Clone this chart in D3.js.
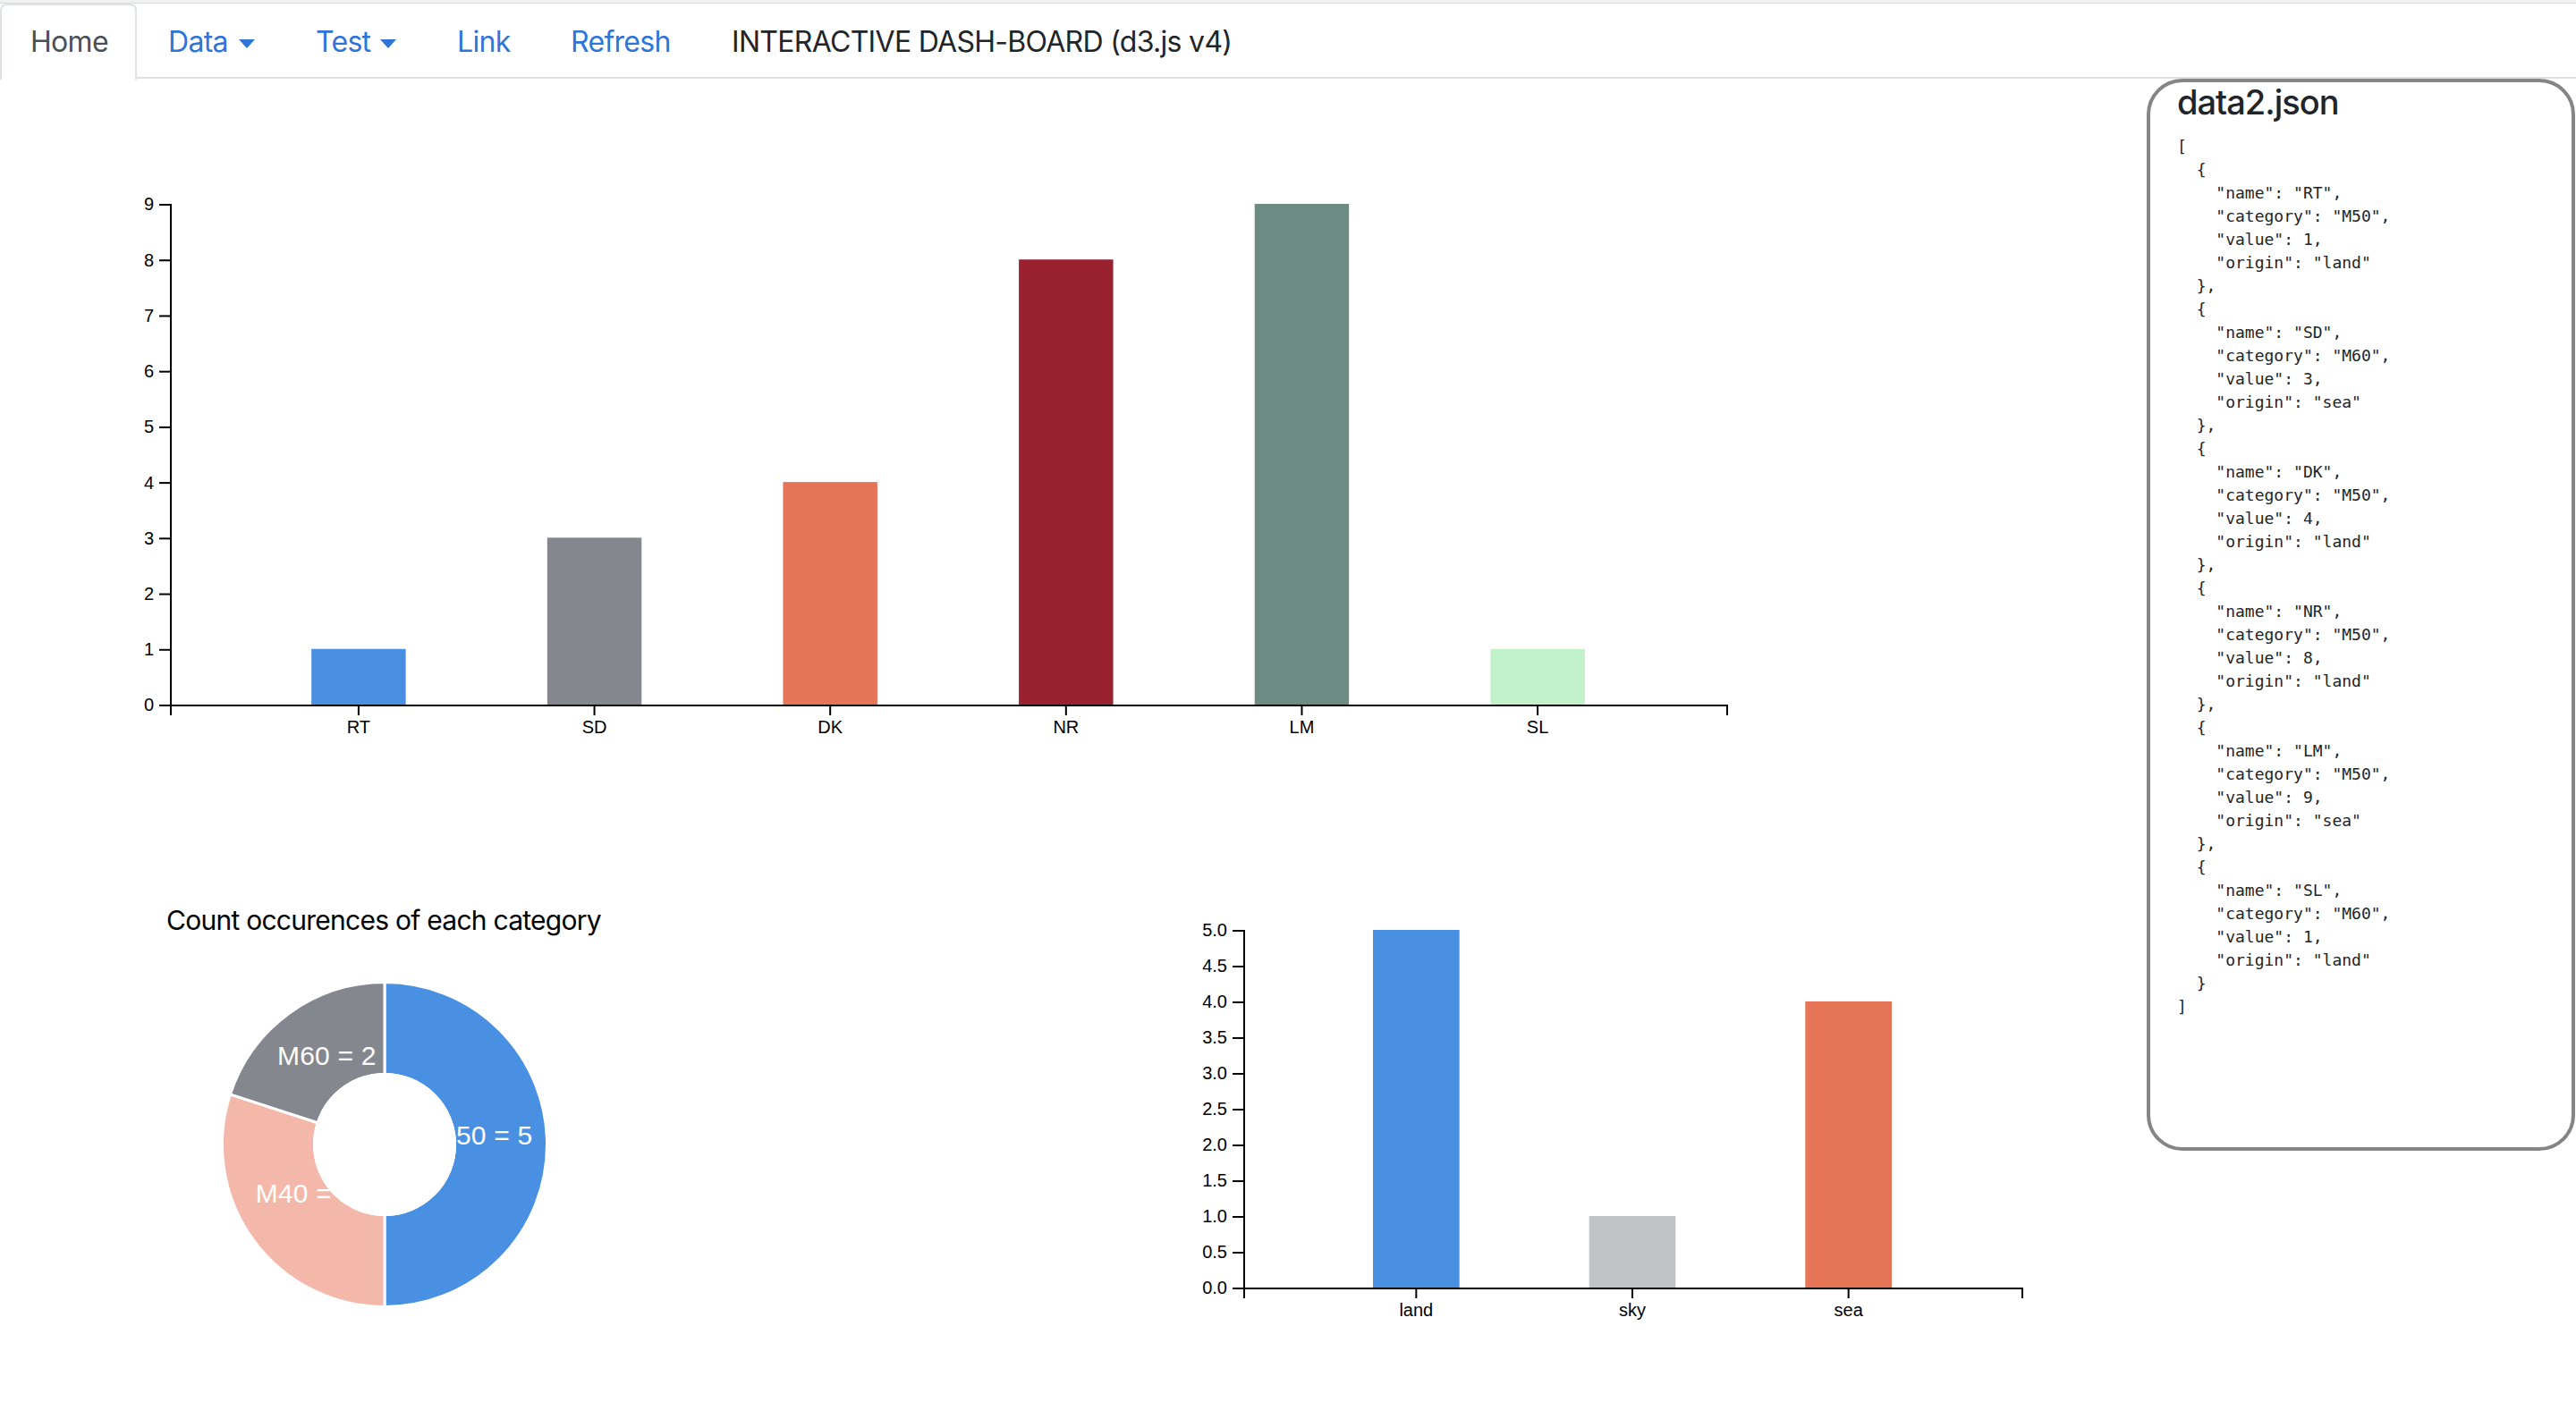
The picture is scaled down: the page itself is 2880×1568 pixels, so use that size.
<!DOCTYPE html>
<html>
<head>
<meta charset="utf-8">
<title>INTERACTIVE DASH-BOARD (d3.js v4)</title>
<script src="https://cdn.jsdelivr.net/npm/d3@7"></script>
<style>
html, body { margin: 0; padding: 0; background: #fff; overflow: hidden; }
svg { display: block; }
.axis text { font-family: "Liberation Sans", Arial, sans-serif; font-size: 20px; fill: #000; }
.axis path, .axis line { stroke: #000; stroke-width: 2; }
.nav text { font-family: Inter, sans-serif; font-size: 32px; letter-spacing: -0.7px; }
</style>
</head>
<body>
<svg id="page" width="2880" height="1568"></svg>
<script>
"use strict";

// data2.json as printed in the side panel, also the top bar chart
var names = ['RT', 'SD', 'DK', 'NR', 'LM', 'SL'];
var categories = ['M50', 'M60', 'M50', 'M50', 'M50', 'M60'];
var values = [1, 3, 4, 8, 9, 1];
var origins = ['land', 'sea', 'land', 'land', 'sea', 'land'];
var barColors = ['#4a90e2', '#85878f', '#e67457', '#9a2230', '#6b8b83', '#c0f1c8'];

// donut
var pieLabels = ['M50', 'M40', 'M60'];
var pieCounts = [5, 3, 2];
var pieColors = ['#4a90e2', '#f3b8aa', '#85878f'];

// small bar chart
var originNames = ['land', 'sky', 'sea'];
var originCounts = [5, 1, 4];
var originColors = ['#4a90e2', '#c2c3c7', '#e67457'];

var svg = d3.select('#page');

//---- nav bar ----
var nav = svg.append('g').attr('class', 'nav');
nav.append('rect').attr('width', 2880).attr('height', 3).attr('fill', '#f1f1f1');
nav.append('rect').attr('y', 3).attr('width', 2880).attr('height', 1).attr('fill', '#dcdcdc');
nav.append('rect').attr('y', 86).attr('width', 2880).attr('height', 2).attr('fill', '#dee0e2');
// active tab
nav.append('path')
	.attr('d', 'M1,88V12Q1,5 8,5H145Q152,5 152,12V88Z')
	.attr('fill', '#fff')
	.attr('stroke', '#dee2e6')
	.attr('stroke-width', 2);
nav.append('rect').attr('x', 2).attr('y', 84).attr('width', 149).attr('height', 6).attr('fill', '#fff');

var navItems = [
	{ label: 'Home', x: 34, color: '#495057' },
	{ label: 'Data', x: 188, color: '#2f74d8' },
	{ label: 'Test', x: 353, color: '#2f74d8' },
	{ label: 'Link', x: 511, color: '#2f74d8' },
	{ label: 'Refresh', x: 638, color: '#2f74d8' },
	{ label: 'INTERACTIVE DASH-BOARD (d3.js v4)', x: 818, color: '#212529' }
];
nav.selectAll('text')
	.data(navItems).enter()
	.append('text')
		.attr('x', function(d) { return d.x; })
		.attr('y', 58)
		.attr('fill', function(d) { return d.color; })
		.text(function(d) { return d.label; });
// dropdown carets
[267, 425].forEach(function(x) {
	nav.append('path')
		.attr('d', 'M' + x + ',44h18l-9,10Z')
		.attr('fill', '#2f74d8');
});

//---- top bar chart ----
var topX = d3.scaleBand().domain(names).range([190, 1930]).padding(0.6);
var topY = d3.scaleLinear().domain([0, 9]).range([788, 228]);

svg.append('g').selectAll('rect')
	.data(values).enter()
	.append('rect')
		.attr('x', function(d, i) { return topX(names[i]); })
		.attr('y', function(d) { return topY(d); })
		.attr('width', topX.bandwidth())
		.attr('height', function(d) { return topY(0) - topY(d); })
		.attr('fill', function(d, i) { return barColors[i]; });

svg.append('g').attr('class', 'axis')
	.attr('transform', 'translate(0,' + topY(0) + ')')
	.call(d3.axisBottom(topX).tickSize(12).tickPadding(6).offset(1));
svg.append('g').attr('class', 'axis')
	.attr('transform', 'translate(' + 190 + ',0)')
	.call(d3.axisLeft(topY).ticks(9).tickSize(12).tickPadding(6).offset(1));

//---- donut ----
svg.append('text')
	.attr('x', 186)
	.attr('y', 1040)
	.attr('font-family', 'Inter, sans-serif')
	.attr('font-size', 30)
	.attr('letter-spacing', -0.74)
	.attr('fill', '#000')
	.text('Count occurences of each category');

var donut = svg.append('g').attr('transform', 'translate(430,1280)');
var pie = d3.pie().sort(null);
var arc = d3.arc().innerRadius(78.5).outerRadius(181.5);
var labelArc = d3.arc().innerRadius(110).outerRadius(110);
var slices = pie(pieCounts);

donut.selectAll('path')
	.data(slices).enter()
	.append('path')
		.attr('d', arc)
		.attr('fill', function(d) { return pieColors[d.index]; })
		.attr('stroke', '#fff')
		.attr('stroke-width', 3);

donut.selectAll('text')
	.data(slices).enter()
	.append('text')
		.attr('transform', function(d) { return 'translate(' + labelArc.centroid(d) + ')'; })
		.attr('text-anchor', 'middle')
		.attr('font-family', '"Liberation Sans", Arial, sans-serif')
		.attr('font-size', 30)
		.attr('letter-spacing', 0.2)
		.attr('fill', '#fff')
		.text(function(d) { return pieLabels[d.index] + ' = ' + d.value; });
// the hole is painted on top of the labels in the original
donut.append('circle').attr('r', 80).attr('fill', '#fff');

//---- small bar chart ----
var originX = d3.scaleBand().domain(originNames).range([1390, 2260]).padding(0.6);
var originY = d3.scaleLinear().domain([0, 5]).range([1440, 1040]);

svg.append('g').selectAll('rect')
	.data(originCounts).enter()
	.append('rect')
		.attr('x', function(d, i) { return originX(originNames[i]); })
		.attr('y', function(d) { return originY(d); })
		.attr('width', originX.bandwidth())
		.attr('height', function(d) { return originY(0) - originY(d); })
		.attr('fill', function(d, i) { return originColors[i]; });

svg.append('g').attr('class', 'axis')
	.attr('transform', 'translate(0,' + originY(0) + ')')
	.call(d3.axisBottom(originX).tickSize(12).tickPadding(6).offset(1));
svg.append('g').attr('class', 'axis')
	.attr('transform', 'translate(' + 1390 + ',0)')
	.call(d3.axisLeft(originY).ticks(10).tickFormat(d3.format('.1f')).tickSize(12).tickPadding(6).offset(1));

//---- json panel ----
var panel = svg.append('g');
panel.append('rect')
	.attr('x', 2402).attr('y', 90)
	.attr('width', 2875 - 2402 + 2).attr('height', 1285 - 90)
	.attr('rx', 38)
	.attr('fill', '#fff')
	.attr('stroke', '#858585')
	.attr('stroke-width', 4);
panel.append('text')
	.attr('x', 2434)
	.attr('y', 128)
	.attr('font-family', 'Inter, sans-serif')
	.attr('font-size', 38)
	.attr('font-weight', 500)
	.attr('letter-spacing', -1)
	.attr('fill', '#212529')
	.text('data2.json');

var rows = names.map(function(d, i) {
	return { name: d, category: categories[i], value: values[i], origin: origins[i] };
});
var jsonLines = JSON.stringify(rows, null, 2).split('\n');
panel.selectAll('text.json')
	.data(jsonLines).enter()
	.append('text')
		.attr('class', 'json')
		.attr('x', 2434)
		.attr('y', function(d, i) { return 169.5 + i * 26; })
		.attr('font-family', '"DejaVu Sans Mono", monospace')
		.attr('font-size', 18)
		.attr('fill', '#212529')
		.attr('xml:space', 'preserve')
		.style('white-space', 'pre')
		.text(function(d) { return d; });
</script>
</body>
</html>
